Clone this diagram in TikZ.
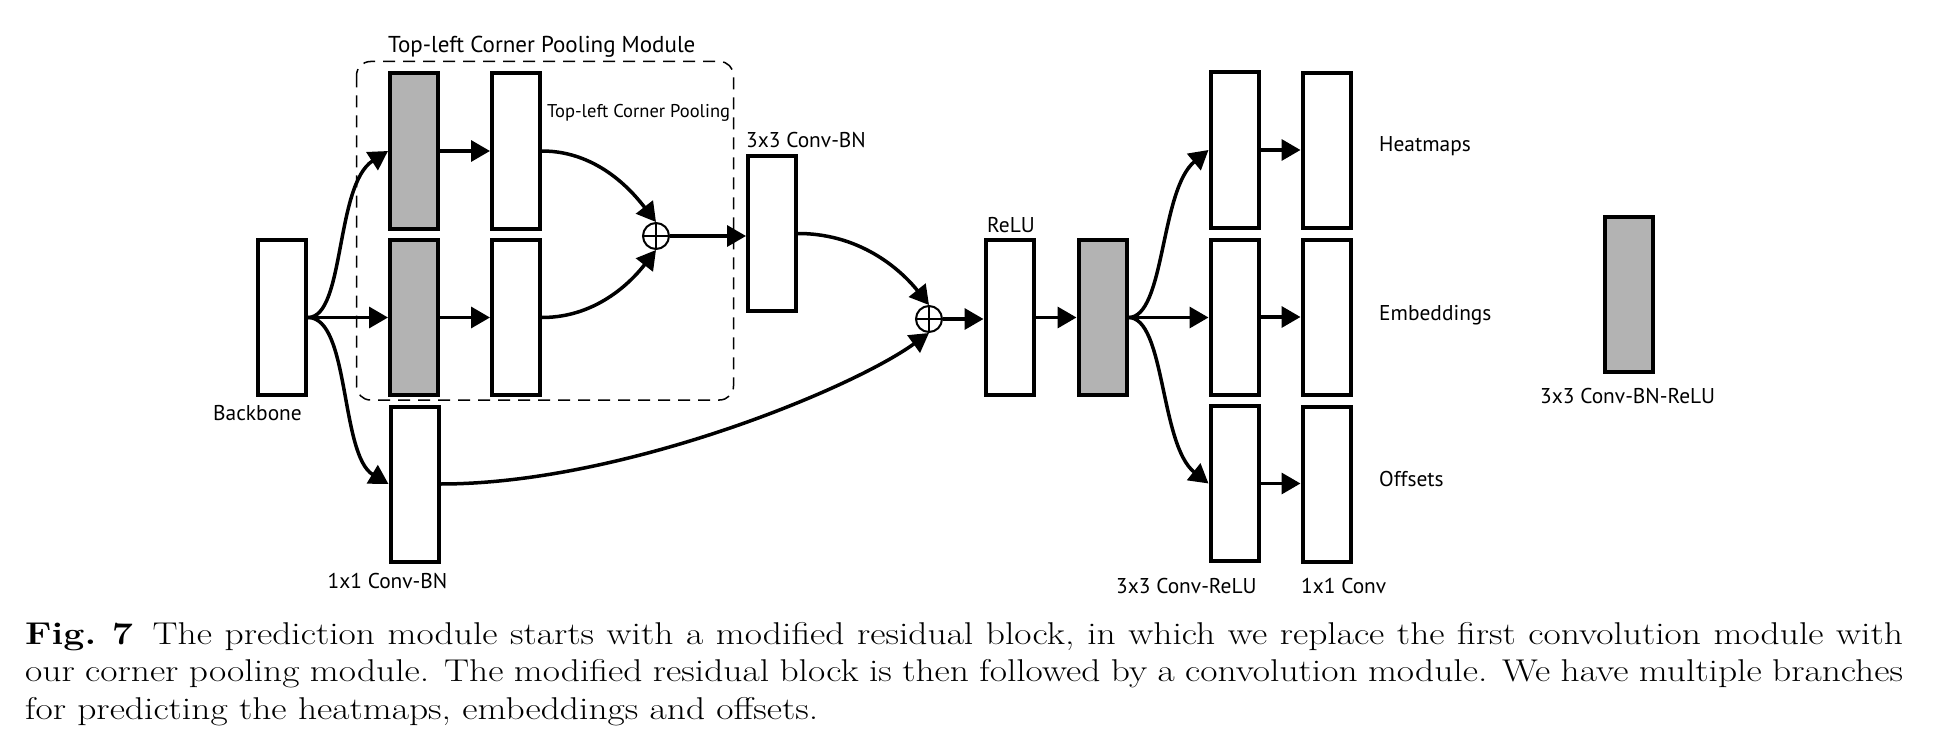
\documentclass[tikz,border=0pt]{standalone}
\usepackage{fontspec}
\newfontfamily\dfont{PT Sans}
\usetikzlibrary{arrows.meta}
\definecolor{boxgray}{RGB}{179,179,179}
\begin{document}
\begin{tikzpicture}[x=1pt,y=-1pt,
  blk/.style={draw=black, line width=4pt, minimum width=48pt, minimum height=155pt, inner sep=0pt, fill=white},
  gblk/.style={blk, fill=boxgray},
  arr/.style={line width=3.5pt, -{Triangle[length=19pt,width=21pt]}},
  sumnode/.style={circle, draw, line width=2pt, minimum size=26pt, inner sep=0pt,
    path picture={\draw[line width=2pt] (path picture bounding box.north) -- (path picture bounding box.south) (path picture bounding box.west) -- (path picture bounding box.east);}},
  lbl/.style={font=\dfont\fontsize{21.4}{25}\selectfont, inner sep=0pt, anchor=base west},
  slbl/.style={font=\dfont\fontsize{18.5}{22}\selectfont, inner sep=0pt, anchor=base west},
  tlbl/.style={font=\dfont\fontsize{23}{27}\selectfont, inner sep=0pt, anchor=base west},
  modbox/.style={line width=1.5pt, dash pattern=on 12pt off 8pt, rounded corners=14pt},
]
\useasboundingbox[fill=white] (0,0) rectangle (1939,733);

% dashed module frame
\draw[modbox] (356.5,61.5) rectangle (733.5,400);

% blocks
\node[blk] (bb) at (282,317.5) {};
\node[gblk] (g1) at (414,151) {};
\node[gblk] (g2) at (414,317.5) {};
\node[blk] (p1) at (516,151) {};
\node[blk] (p2) at (516,317.5) {};
\node[blk] (c1) at (414.5,484) {};
\node[sumnode] (s1) at (656,236) {};
\node[blk] (cb) at (772,233.5) {};
\node[sumnode] (s2) at (929,319) {};
\node[blk] (relu) at (1009.5,317.5) {};
\node[gblk] (g3) at (1102.5,317.5) {};
\node[blk] (a1) at (1234.5,150) {};
\node[blk] (a2) at (1234.5,317) {};
\node[blk] (a3) at (1234.5,483.5) {};
\node[blk] (b1) at (1326.5,150.5) {};
\node[blk] (b2) at (1326.5,317.5) {};
\node[blk] (b3) at (1326.5,484.5) {};
\node[gblk] (leg) at (1628.5,294) {};

% connectors
\draw[arr] (bb.east) .. controls (345,317.5) and (335,185) .. (g1.west);
\draw[arr] (bb.east) -- (g2.west);
\draw[arr] (bb.east) .. controls (350,317.5) and (340,455) .. (c1.west);
\draw[arr] (g1.east) -- (p1.west);
\draw[arr] (g2.east) -- (p2.west);
\draw[arr] (p1.east) .. controls (600,151) and (635,195) .. (s1.north);
\draw[arr] (p2.east) .. controls (600,317.5) and (635,277) .. (s1.south);
\draw[arr] (s1.east) -- (s1.east -| cb.west);
\draw[arr] (cb.east) .. controls (865,233.5) and (905,275) .. (s2.north);
\draw[arr] (c1.east) .. controls (620,484) and (850,390) .. (s2.south);
\draw[arr] (s2.east) -- (s2.east -| relu.west);
\draw[arr] (relu.east) -- (g3.west);
\draw[arr] (g3.east) .. controls (1165,317.5) and (1160,190) .. (a1.west);
\draw[arr] (g3.east) -- (g3.east -| a2.west);
\draw[arr] (g3.east) .. controls (1165,317.5) and (1160,445) .. (a3.west);
\draw[arr] (a1.east) -- (a1.east -| b1.west);
\draw[arr] (a2.east) -- (a2.east -| b2.west);
\draw[arr] (a3.east) -- (a3.east -| b3.west);

% labels
\node[tlbl] (tmod) at (388,53) {Top-left Corner Pooling Module};
\node[slbl] (tpool) at (547,118) {Top-left Corner Pooling};
\node[lbl] (lbb) at (213,420) {Backbone};
\node[lbl] (lc1) at (327.5,588) {1x1 Conv-BN};
\node[lbl] (lcb) at (746,148) {3x3 Conv-BN};
\node[lbl] (lrelu) at (987,232) {ReLU};
\node[lbl] (lheat) at (1379,152) {Heatmaps};
\node[lbl] (lemb) at (1379,320) {Embeddings};
\node[lbl] (loff) at (1379,486) {Offsets};
\node[lbl] (la) at (1116,593.5) {3x3 Conv-ReLU};
\node[lbl] (lb) at (1301,593.5) {1x1 Conv};
\node[lbl] (lleg) at (1540,403.5) {3x3 Conv-BN-ReLU};

% caption
\node[anchor=base west, inner sep=0pt] (cap) at (25,644) {\scalebox{1.19}[1]{\parbox[t]{1578pt}{\fontsize{31.5}{37.5}\selectfont
\textbf{Fig.~7}\hspace{6pt} The prediction module starts with a modified residual block, in which we replace the first convolution module with\linebreak
our corner pooling module. The modified residual block is then followed by a convolution module. We have multiple branches\linebreak
for predicting the heatmaps, embeddings and offsets.}}};
\end{tikzpicture}
\end{document}
